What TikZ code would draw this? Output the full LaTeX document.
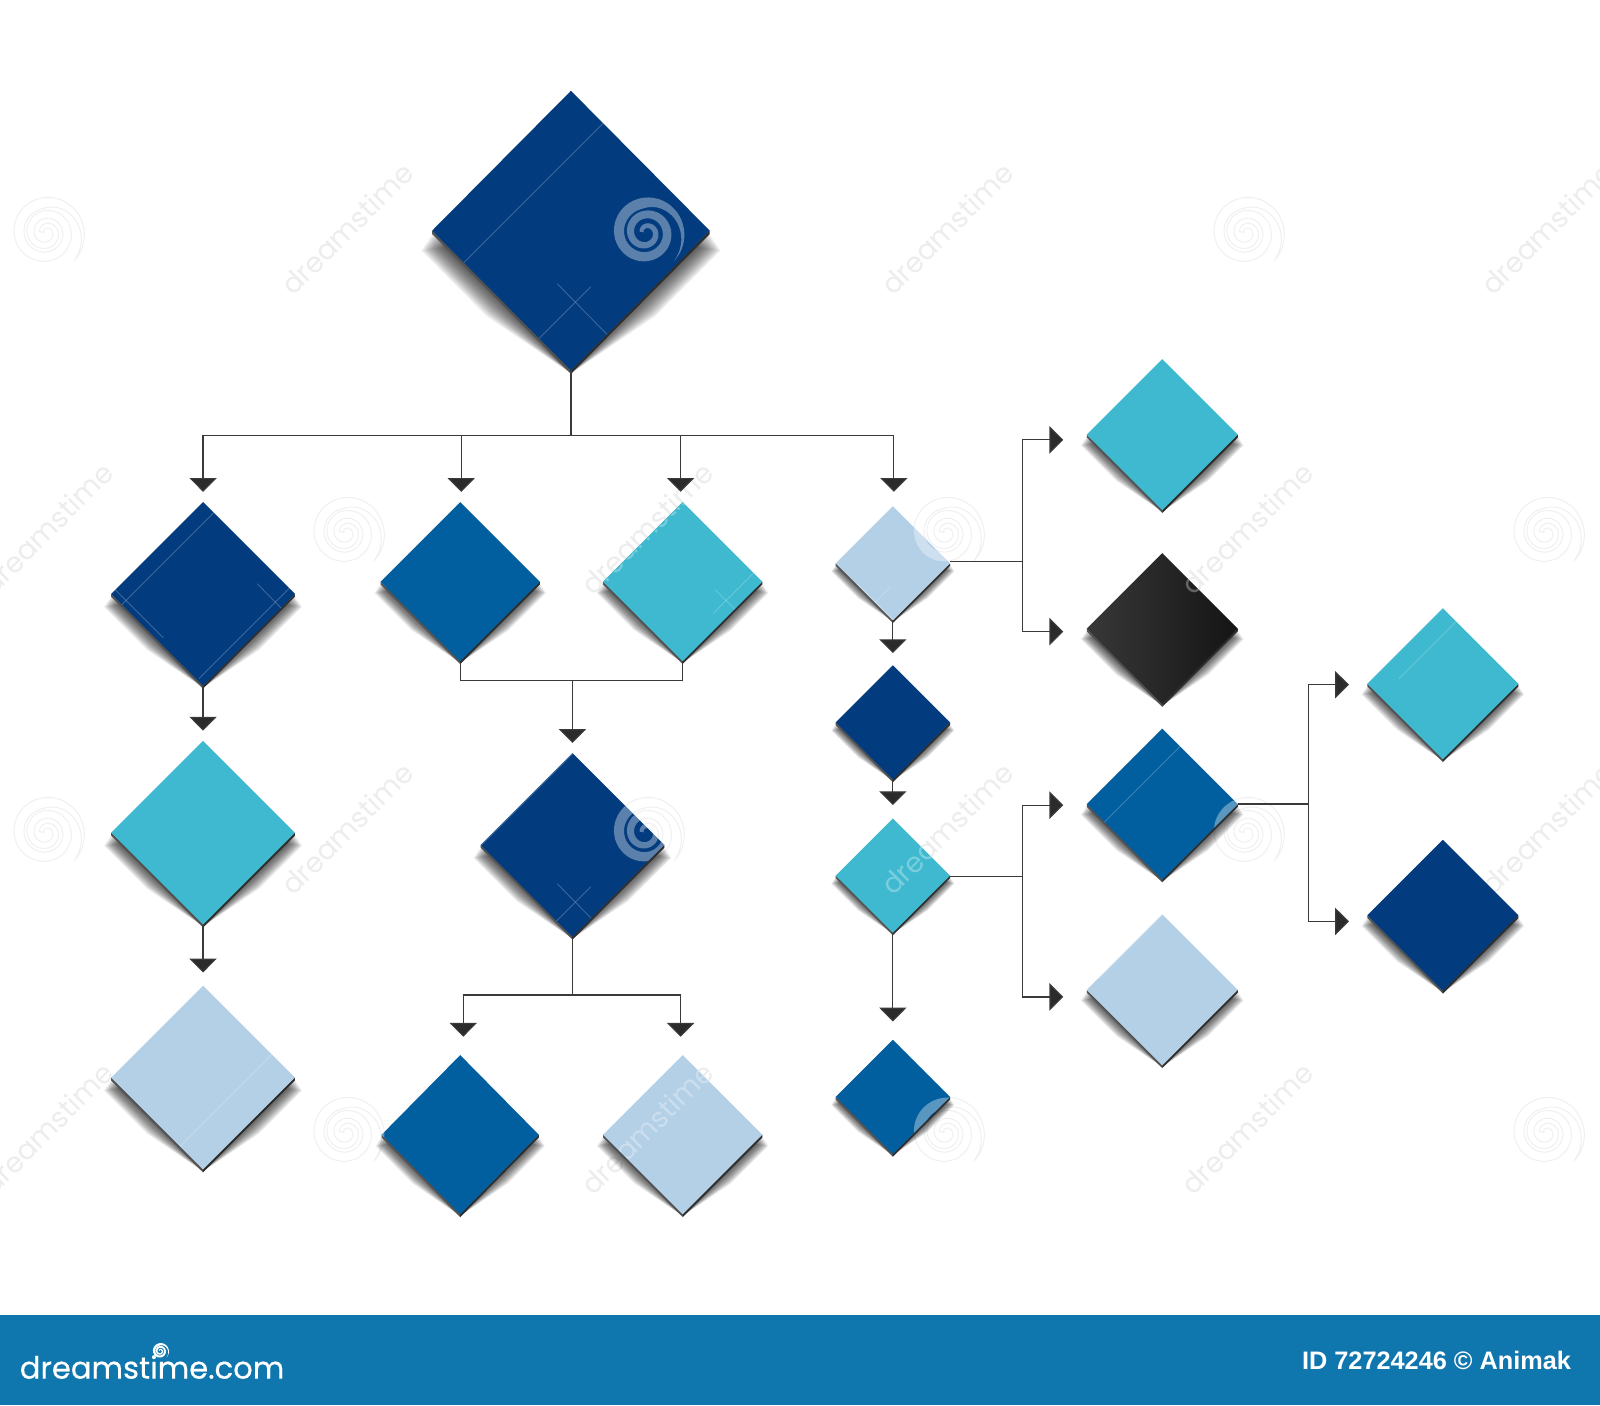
\documentclass[tikz,border=0pt]{standalone}
\usepackage{fontspec}
\usetikzlibrary{shapes.geometric,arrows.meta,calc}
\newfontfamily\popf{Poppins}
\newfontfamily\popm[FakeBold=0.5]{Poppins}
\newfontfamily\idf{Liberation Sans}
\definecolor{navy}{HTML}{033C7E}
\definecolor{midb}{HTML}{015E9F}
\definecolor{teal}{HTML}{3FB9CF}
\definecolor{pale}{HTML}{B4D0E7}
\definecolor{ink}{HTML}{2B2B2B}
\definecolor{linec}{HTML}{3A3A3A}
\definecolor{band}{HTML}{0F76AE}
\tikzset{
  dia/.style={shape=diamond,inner sep=0pt,outer sep=0pt,draw=none},
  conn/.style={draw=linec,line width=0.6pt},
  arr/.style={conn,-{Triangle[length=6.9pt,width=13.6pt,fill=ink]}},
  markline/.style={line width=0.45pt},
}
% spiral band centred on (#1,#2), scale #3
\newcommand{\SpiralBand}[3]{
  plot[domain=0:2.6,samples=60,variable=\t,smooth]
    ({#1+#3*(37-12*\t)*cos(-45+360*\t)},{#2-#3*(37-12*\t)*sin(-45+360*\t)})
  -- plot[domain=2.6:0,samples=60,variable=\t,smooth]
    ({#1+#3*(37-12*\t-11*min(1,\t/0.4)*(1-\t/4))*cos(-45+360*\t)},{#2-#3*(37-12*\t-11*min(1,\t/0.4)*(1-\t/4))*sin(-45+360*\t)})
  -- cycle
}
% soft shadow, side edge and face of one diamond: name, cx, cy, half width, half height, face options
\newcommand{\Dia}[6]{
  \foreach \k in {14,13,...,1}{
    \pgfmathsetmacro{\tt}{\k/14}
    \fill[black,opacity=0.065]
      ({#2-#4*(1+.08*\tt)},{#3+#5*(.02+.12*\tt)})
      -- ({#2-#4*(.5+.11*\tt)},{#3+#5*(.5+.11*\tt)})
      -- ({#2},{#3+#5*1.02})
      -- ({#2+#4*(.5+.11*\tt)},{#3+#5*(.5+.11*\tt)})
      -- ({#2+#4*(1+.08*\tt)},{#3+#5*(.02+.12*\tt)})
      -- ({#2},{#3}) -- cycle;
  }
  \pgfmathsetmacro{\ee}{2+#4*0.01}
  \fill[black!68] ({#2-#4},{#3}) -- ({#2-#4},{#3+\ee}) -- ({#2},{#3+#5+\ee}) -- ({#2},{#3+#5}) -- cycle;
  \fill[black!82] ({#2+#4},{#3}) -- ({#2+#4},{#3+\ee}) -- ({#2},{#3+#5+\ee}) -- ({#2},{#3+#5}) -- cycle;
  \node[dia,minimum width=#4*1.0204pt,minimum height=#5*1.0204pt,#6] (#1) at (#2,#3) {};
}
\begin{document}
\begin{tikzpicture}[x=0.5102pt,y=-0.5102pt]
\useasboundingbox (0,0) rectangle (1568,1377);
\fill[white] (0,0) rectangle (1568,1377);
% faint stock-photo marks on the white ground
\begin{scope}
\clip (0,0) rectangle (1568,1289);
\foreach \ox/\oy in {-24/296,564/296,1152/296,270/590,858/590,1446/590,-24/884,564/884,1152/884,270/1178,858/1178,1446/1178}{
  \draw[black!6,line width=0.5pt] \SpiralBand{\ox+69}{\oy-68}{1.06};
}
\foreach \ox/\oy in {564/296,1152/296,270/590,858/590,1446/590,564/884,1152/884,270/1178,858/1178,1446/1178,1740/296,1740/884}{
  \node[rotate=45,text=black!7,font=\popf\fontsize{14}{14}\selectfont] at (\ox-224,\oy-72) {dreamstime};
}
\end{scope}
% diamonds
\Dia{root}{559.5}{226}{136}{137}{fill=navy}
\Dia{la}{199}{582}{90}{90}{fill=navy}
\Dia{lb}{199}{816}{90}{90}{fill=teal}
\Dia{lc}{199}{1056}{90}{90}{fill=pale}
\Dia{ma}{451}{570}{78}{78}{fill=midb}
\Dia{mb}{669}{570}{78}{78}{fill=teal}
\Dia{mc}{561}{828}{90}{90}{fill=navy}
\Dia{md}{451}{1112}{77}{78}{fill=midb}
\Dia{me}{669}{1112}{78}{78}{fill=pale}
\Dia{ca}{875}{552}{56}{56}{fill=pale}
\Dia{cb}{875}{708}{56}{56}{fill=navy}
\Dia{cc}{875}{858}{56}{56}{fill=teal}
\Dia{cd}{875}{1075}{56}{56}{fill=midb}
\Dia{ra}{1139}{426}{74}{74}{fill=teal}
\Dia{rb}{1139}{616}{74}{74}{left color=black!78,right color=black!92}
\Dia{rc}{1139}{788}{74}{74}{fill=midb}
\Dia{rd}{1139}{970}{74}{74}{fill=pale}
\Dia{fa}{1414}{670}{74}{74}{fill=teal}
\Dia{fb}{1414}{897}{74}{74}{fill=navy}
% marks that show through the faces
\foreach \cx/\cy/\hw/\hh in {559.5/226/136/137,199/582/90/90,199/816/90/90,199/1056/90/90,451/570/78/78,669/570/78/78,561/828/90/90,451/1112/77/78,669/1112/78/78,875/552/56/56,875/708/56/56,875/858/56/56,875/1075/56/56,1139/426/74/74,1139/616/74/74,1139/788/74/74,1139/970/74/74,1414/670/74/74,1414/897/74/74}{
  \begin{scope}
  \clip (\cx-\hw,\cy) -- (\cx,\cy-\hh) -- (\cx+\hw,\cy) -- (\cx,\cy+\hh) -- cycle;
  \foreach \ox/\oy in {-24/296,564/296,1152/296,270/590,858/590,1446/590,-24/884,564/884,1152/884,270/1178,858/1178,1446/1178}{
    \pgfmathparse{(abs(\ox+69-\cx)<\hw+40 && abs(\oy-68-\cy)<\hh+40) ? 1 : 0}
    \ifnum\pgfmathresult=1
      \fill[white,opacity=0.35] \SpiralBand{\ox+69}{\oy-68}{1.06};
    \fi
    \pgfmathparse{(abs(\ox-224-\cx)+abs(\oy-72-\cy)<\hw+120) ? 1 : 0}
    \ifnum\pgfmathresult=1
      \node[rotate=45,text=white,opacity=0.3,font=\popf\fontsize{14}{14}\selectfont] at (\ox-224,\oy-72) {dreamstime};
    \fi
    \draw[white,opacity=0.22,markline] (\ox+15,\oy-15) -- (\ox-75,\oy+75);
    \draw[white,opacity=0.22,markline] (\ox-18,\oy-18) -- (\ox+46,\oy+47);
    \draw[white,opacity=0.22,markline] (\ox+27,\oy-175) -- (\ox-159,\oy+11);
    \draw[white,opacity=0.22,markline] (\ox-157,\oy-12) -- (\ox-110,\oy+35);
  }
  \end{scope}
}
% hubs and arrow ends
\coordinate (h0) at (root.south |- 0,427);
\coordinate (ta) at (199,482);
\coordinate (tb) at (452,482);
\coordinate (tc) at (667,482);
\coordinate (td) at (876,482);
\coordinate (tla) at (199,716);
\coordinate (tlb) at (199,953);
\coordinate (jm) at (561,667);
\coordinate (tmc) at (561,728);
\coordinate (jn) at (561,975);
\coordinate (tmd) at (454,1016);
\coordinate (tme) at (667,1016);
\coordinate (tcb) at (875,640);
\coordinate (tcc) at (875,789);
\coordinate (tcd) at (875,1001);
\coordinate (jr) at (1002,550);
\coordinate (tra) at (1042,431);
\coordinate (trb) at (1042,619);
\coordinate (js) at (1002,859);
\coordinate (trc) at (1042,789);
\coordinate (trd) at (1042,977);
\coordinate (jt) at (1282,788);
\coordinate (tfa) at (1322,671);
\coordinate (tfb) at (1322,903);
% connectors
\draw[conn] (root.south) -- (h0);
\draw[arr] (h0) -| (ta);
\draw[arr] (h0) -| (tb);
\draw[arr] (h0) -| (tc);
\draw[arr] (h0) -| (td);
\draw[arr] (la.south) -- (tla);
\draw[arr] (lb.south) -- (tlb);
\draw[conn] (ma.south) |- (jm);
\draw[conn] (mb.south) |- (jm);
\draw[arr] (jm) -- (tmc);
\draw[conn] (mc.south) -- (jn);
\draw[arr] (jn) -| (tmd);
\draw[arr] (jn) -| (tme);
\draw[arr] (ca.south) -- (tcb);
\draw[arr] (cb.south) -- (tcc);
\draw[arr] (cc.south) -- (tcd);
\draw[conn] (ca.east |- jr) -- (jr);
\draw[arr] (jr) |- (tra);
\draw[arr] (jr) |- (trb);
\draw[conn] (cc.east |- js) -- (js);
\draw[arr] (js) |- (trc);
\draw[arr] (js) |- (trd);
\draw[conn] (rc.east) -- (jt);
\draw[arr] (jt) |- (tfa);
\draw[arr] (jt) |- (tfb);
% bottom band
\fill[band] (0,1289) rectangle (1568,1377);
\node[anchor=base west,inner sep=0pt,text=white,font=\popm\fontsize{15.3}{16}\selectfont] (logo) at (19,1351) {dreamstime.com};
\fill[white] \SpiralBand{157}{1324}{0.24};
\node[anchor=east,inner sep=0pt,text=white,font=\idf\bfseries\fontsize{12.65}{13}\selectfont] (idt) at (1540,1333) {ID 72724246 © Animak};
\end{tikzpicture}
\end{document}
